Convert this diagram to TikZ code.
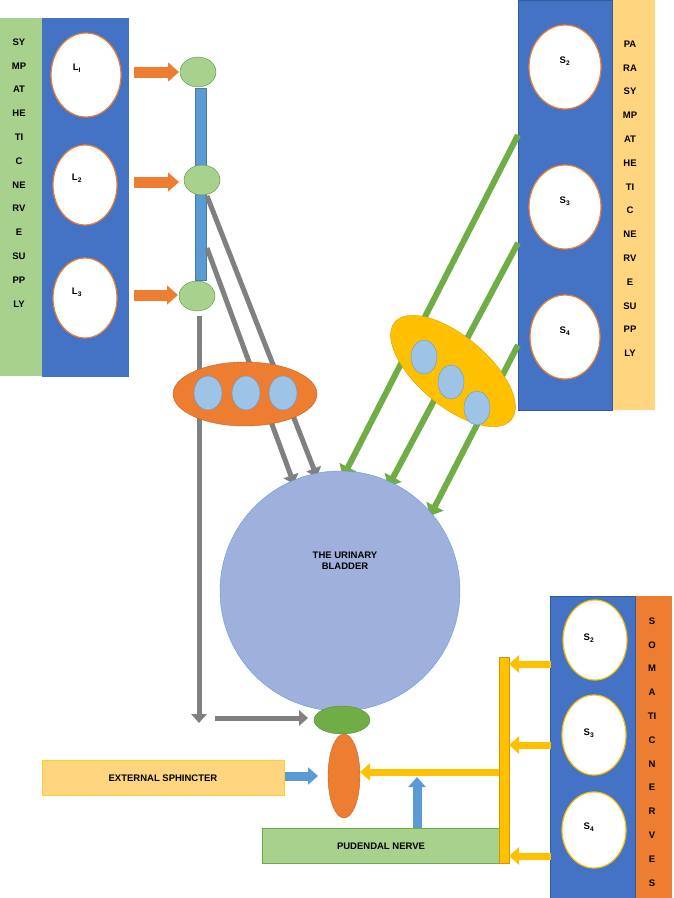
\documentclass[tikz,border=0pt]{standalone}
\usepackage{fontspec}
\setmainfont{Liberation Sans}
\usetikzlibrary{arrows.meta}
\definecolor{bl}{HTML}{4472C4}
\definecolor{lg}{HTML}{A9D18E}
\definecolor{org}{HTML}{ED7D31}
\definecolor{lo}{HTML}{FFD580}
\definecolor{yl}{HTML}{FFC000}
\definecolor{gr}{HTML}{70AD47}
\definecolor{lb}{HTML}{9DC3E6}
\definecolor{bladder}{HTML}{9FB0DC}
\definecolor{sb}{HTML}{5B9BD5}
\begin{document}
\begin{tikzpicture}[x=1pt,y=-1pt,font=\bfseries\fontsize{9.5}{11}\selectfont,
  oval/.style={draw=org,line width=1.2pt,fill=white,ellipse},
  yoval/.style={draw=yl,line width=1.2pt,fill=white},
  lbl/.style={inner sep=0pt},
  fat/.style args={#1/#2/#3}{line width=#2, draw=#1, -{Triangle[length=#3,width=#3*1.7]}, fill=#1},
  gar/.style={fat=gray/5pt/9pt},
  garr/.style={fat=gr/6pt/11pt},
  oarr/.style={fat=org/11pt/11pt},
  yarr/.style={fat=yl/7pt/10pt},
  barr/.style={fat=sb/9pt/10pt}]
\useasboundingbox (0,0) rectangle (673,898);
% left panel
\fill[lg] (0,18) rectangle (42,376);
\draw[bl,fill=bl] (42,18) rectangle (128,376);
\foreach \t [count=\i] in {SY,MP,AT,HE,TI,C,NE,RV,E,SU,PP,LY}
  \node[lbl] (ls\i) at (19,{42+(\i-1)*23.8}) {\t};
\draw[org,line width=1.2pt,fill=white] (86,75) ellipse (35 and 42);
\draw[org,line width=1.2pt,fill=white] (85,185) ellipse (32 and 40);
\draw[org,line width=1.2pt,fill=white] (85,298) ellipse (32 and 40);
\node[lbl] (l1) at (77,68) {L\textsubscript{I}};
\node[lbl] (l2) at (77,178) {L\textsubscript{2}};
\node[lbl] (l3) at (77,292) {L\textsubscript{3}};
% blue bar
\draw[sb!80!black,fill=sb] (195,88) rectangle (206,280);
% gray arrows
\coordinate (g1s) at (207,196); \coordinate (g1e) at (317,477);
\coordinate (g2s) at (207,248); \coordinate (g2e) at (294,484);
\draw[gar] (g1s) -- (g1e);
\draw[gar] (g2s) -- (g2e);
\coordinate (g3s) at (199,316); \coordinate (g3e) at (199,723);
\draw[gar] (g3s) -- (g3e);
\coordinate (g4s) at (215,718); \coordinate (g4e) at (308,718);
\draw[gar] (g4s) -- (g4e);
% green ganglia
\draw[gr!80!black,fill=lg] (198,72) ellipse (18 and 15);
\draw[gr!80!black,fill=lg] (202,180) ellipse (18 and 15);
\draw[gr!80!black,fill=lg] (197,296) ellipse (18 and 15);
\coordinate (o1s) at (134,72); \coordinate (o1e) at (179,72);
\coordinate (o2s) at (134,182); \coordinate (o2e) at (179,182);
\coordinate (o3s) at (134,295); \coordinate (o3e) at (178,295);
\draw[oarr] (o1s) -- (o1e);
\draw[oarr] (o2s) -- (o2e);
\draw[oarr] (o3s) -- (o3e);
% orange ganglion
\draw[org!80!black,fill=org] (245,394) ellipse (72 and 32);
\foreach \x in {208,246,283} \draw[sb,fill=lb] (\x,393) ellipse (14 and 17);
% top right
\fill[lo] (612,0) rectangle (655,410);
\draw[bl!80!black,fill=bl] (518,0) rectangle (612,410);
\foreach \t [count=\i] in {PA,RA,SY,MP,AT,HE,TI,C,NE,RV,E,SU,PP,LY}
  \node[lbl] (ps\i) at (630,{44+(\i-1)*23.8}) {\t};
\draw[org,line width=1.2pt,fill=white] (565,67) ellipse (36 and 42);
\draw[org,line width=1.2pt,fill=white] (565,207) ellipse (36 and 42);
\draw[org,line width=1.2pt,fill=white] (565,337) ellipse (35 and 42);
\node[lbl] (s2) at (565,61) {S\textsubscript{2}};
\node[lbl] (s3) at (565,201) {S\textsubscript{3}};
\node[lbl] (s4) at (565,331) {S\textsubscript{4}};
% green arrows
\coordinate (p1s) at (518,135); \coordinate (p1e) at (343,477);
\coordinate (p2s) at (518,243); \coordinate (p2e) at (388,487);
\coordinate (p3s) at (518,345); \coordinate (p3e) at (430,516);
\draw[garr] (p1s) -- (p1e);
\draw[garr] (p2s) -- (p2e);
\draw[garr] (p3s) -- (p3e);
% yellow ganglion
\draw[yl!85!black,fill=yl,rotate around={-40:(453,371)}] (453,371) ellipse (76 and 35);
\foreach \x/\y in {424/357,451/382,477/408} \draw[sb,fill=lb] (\x,\y) ellipse (13 and 17);
% bladder
\draw[sb,fill=bladder] (340,591) circle (120);
\node[align=center,lbl] (bladder) at (345,561) {THE URINARY\\BLADDER};
% sphincters
\draw[gr!80!black,fill=gr] (342,720) ellipse (28 and 14);
\draw[org!80!black,fill=org] (344,776) ellipse (16 and 42);
% external sphincter
\draw[yl!80,fill=lo] (42,760) rectangle (284,795);
\node[lbl] (ext) at (163,778) {EXTERNAL SPHINCTER};
\coordinate (e1s) at (285,776); \coordinate (e1e) at (318,776);
\draw[barr] (e1s) -- (e1e);
% pudendal
\draw[gr,fill=lg] (262,828) rectangle (499,863);
\node[lbl] (pud) at (381,846) {PUDENDAL NERVE};
\coordinate (b2s) at (417,828); \coordinate (b2e) at (417,777);
\draw[barr] (b2s) -- (b2e);
% bottom right
\fill[org] (635,596) rectangle (672,898);
\draw[bl!80!black,fill=bl] (550,596) rectangle (635,898);
\foreach \t [count=\i] in {S,O,M,A,TI,C,N,E,R,V,E,S}
  \node[lbl] (so\i) at (652,{621+(\i-1)*23.8}) {\t};
\draw[yl,line width=1.2pt,fill=white] (595,640) ellipse (32 and 40);
\draw[yl,line width=1.2pt,fill=white] (594,735) ellipse (32 and 40);
\draw[yl,line width=1.2pt,fill=white] (594,830) ellipse (32 and 38);
\node[lbl] (t2) at (589,638) {S\textsubscript{2}};
\node[lbl] (t3) at (589,733) {S\textsubscript{3}};
\node[lbl] (t4) at (589,827) {S\textsubscript{4}};
% yellow bar and arrows
\draw[yl!80!black,fill=yl] (499,657) rectangle (509,863);
\coordinate (y1s) at (551,664); \coordinate (y1e) at (509,664);
\coordinate (y2s) at (551,745); \coordinate (y2e) at (509,745);
\coordinate (y3s) at (551,856); \coordinate (y3e) at (509,856);
\coordinate (y4s) at (499,772); \coordinate (y4e) at (360,772);
\draw[yarr] (y1s) -- (y1e);
\draw[yarr] (y2s) -- (y2e);
\draw[yarr] (y3s) -- (y3e);
\draw[yarr] (y4s) -- (y4e);
\end{tikzpicture}
\end{document}
